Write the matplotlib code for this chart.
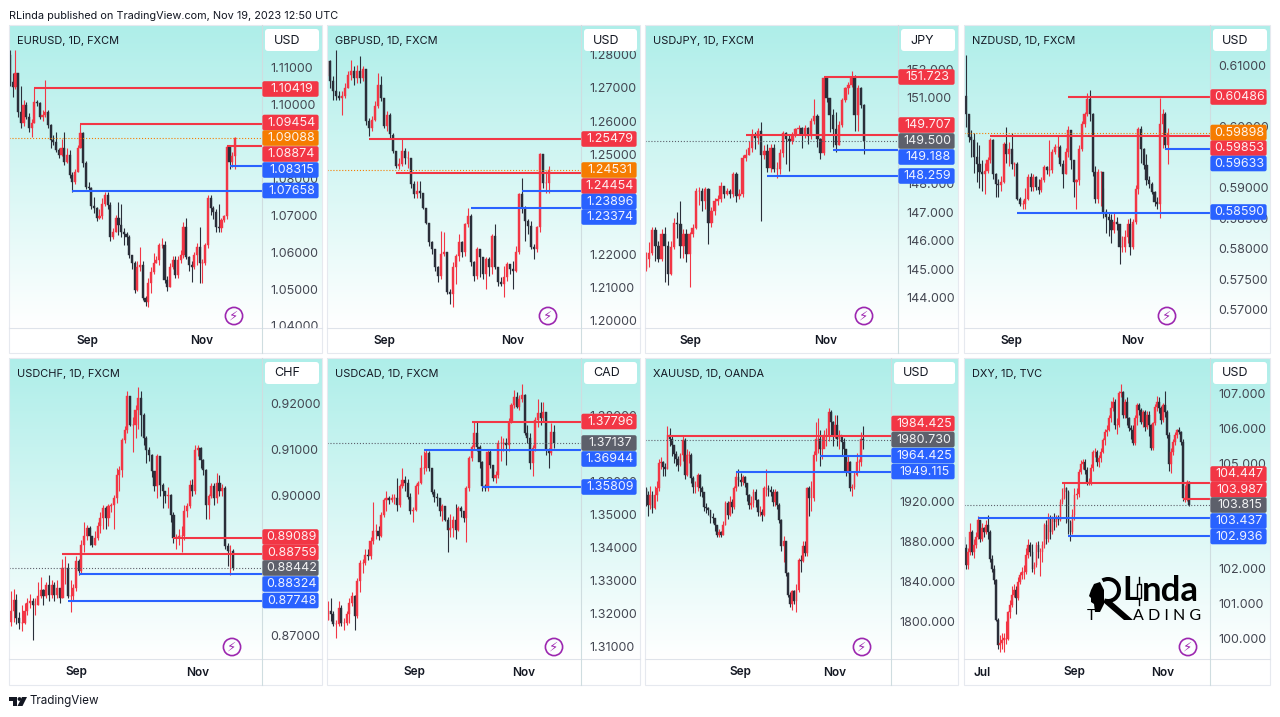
import numpy as np
import matplotlib
matplotlib.use('Agg')
import matplotlib.pyplot as plt
from matplotlib.colors import LinearSegmentedColormap
from matplotlib.patches import FancyBboxPatch, Rectangle, Circle, Polygon, Wedge

plt.rcParams['font.family'] = ['Inter', 'DejaVu Sans']

#--------------------------------------------------- daily candles, open is the previous close
eurusd_close = [1.1060,1.1047,1.1083,1.0979,1.0948,1.0997,1.0966,1.0934,1.0948,1.1006,
  1.1002,1.0966,1.0970,1.0979,1.0943,1.0903,1.0898,1.0876,1.0862,1.0880,
  1.0844,1.0862,1.0808,1.0790,1.0817,1.0880,1.0921,1.0840,1.0776,1.0772,
  1.0723,1.0718,1.0691,1.0696,1.0731,1.0754,1.0727,1.0641,1.0655,1.0691,
  1.0673,1.0655,1.0650,1.0641,1.0592,1.0569,1.0497,1.0560,1.0565,1.0475,
  1.0466,1.0515,1.0547,1.0569,1.0578,1.0619,1.0619,1.0524,1.0506,1.0560,
  1.0578,1.0538,1.0578,1.0592,1.0668,1.0587,1.0565,1.0560,1.0592,1.0614,
  1.0569,1.0569,1.0619,1.0745,1.0718,1.0709,1.0668,1.0664,1.0686,1.0696,
  1.0885,1.0844,1.0860,1.09088]
eurusd_high = [1.1146,1.1085,1.1146,1.1083,1.1050,1.1011,1.1005,1.0975,1.0960,1.1042,
  1.1012,1.1005,1.0985,1.1065,1.0985,1.0945,1.0915,1.0925,1.0880,1.0905,
  1.0925,1.0880,1.0875,1.0815,1.0825,1.0890,1.0945,1.0925,1.0845,1.0790,
  1.0776,1.0750,1.0722,1.0715,1.0745,1.0763,1.0763,1.0735,1.0665,1.0700,
  1.0735,1.0730,1.0665,1.0655,1.0645,1.0592,1.0575,1.0575,1.0614,1.0575,
  1.0480,1.0530,1.0560,1.0596,1.0590,1.0625,1.0637,1.0630,1.0535,1.0570,
  1.0590,1.0590,1.0590,1.0605,1.0680,1.0691,1.0590,1.0575,1.0600,1.0625,
  1.0668,1.0580,1.0625,1.0754,1.0754,1.0725,1.0715,1.0731,1.0692,1.0700,
  1.0890,1.0890,1.0870,1.0912]
eurusd_low = [1.1050,1.1020,1.1040,1.0965,1.0935,1.0940,1.0960,1.0925,1.0912,1.0948,
  1.0995,1.0960,1.0955,1.0965,1.0935,1.0880,1.0890,1.0870,1.0853,1.0860,
  1.0835,1.0840,1.0800,1.0763,1.0785,1.0815,1.0880,1.0830,1.0770,1.0765,
  1.0715,1.0705,1.0685,1.0688,1.0690,1.0725,1.0715,1.0630,1.0635,1.0655,
  1.0645,1.0640,1.0620,1.0620,1.0585,1.0555,1.0490,1.0495,1.0550,1.0470,
  1.0455,1.0452,1.0490,1.0540,1.0570,1.0565,1.0610,1.0515,1.0495,1.0505,
  1.0555,1.0530,1.0530,1.0570,1.0585,1.0580,1.0550,1.0520,1.0555,1.0565,
  1.0515,1.0515,1.0565,1.0610,1.0700,1.0690,1.0655,1.0655,1.0655,1.0680,
  1.0690,1.0825,1.0830,1.0825]

gbpusd_close = [1.2780,1.2720,1.2690,1.2675,1.2670,1.2675,1.2700,1.2740,1.2750,1.2730,
  1.2750,1.2730,1.2757,1.2600,1.2580,1.2605,1.2647,1.2710,1.2670,1.2585,
  1.2620,1.2560,1.2510,1.2465,1.2470,1.2510,1.2490,1.2490,1.2410,1.2380,
  1.2390,1.2385,1.2340,1.2295,1.2235,1.2215,1.2160,1.2135,1.2200,1.2205,
  1.2085,1.2080,1.2160,1.2195,1.2235,1.2205,1.2290,1.2315,1.2175,1.2135,
  1.2215,1.2190,1.2140,1.2185,1.2160,1.2255,1.2160,1.2115,1.2110,1.2130,
  1.2170,1.2155,1.2150,1.2205,1.2380,1.2340,1.2300,1.2285,1.2220,1.2215,
  1.2280,1.2500,1.2415,1.2415,1.24531]
gbpusd_high = [1.2785,1.2785,1.2735,1.2815,1.2690,1.2690,1.2715,1.2750,1.2785,1.2765,
  1.2770,1.2795,1.2765,1.2757,1.2610,1.2615,1.2660,1.2745,1.2735,1.2670,
  1.2630,1.2625,1.2565,1.2510,1.2490,1.2545,1.2520,1.2510,1.2490,1.2420,
  1.2420,1.2420,1.2385,1.2340,1.2295,1.2240,1.2215,1.2165,1.2270,1.2265,
  1.2205,1.2095,1.2175,1.2200,1.2260,1.2240,1.2295,1.2340,1.2320,1.2180,
  1.2220,1.2215,1.2190,1.2190,1.2190,1.2260,1.2290,1.2160,1.2130,1.2165,
  1.2175,1.2170,1.2180,1.2225,1.2385,1.2430,1.2345,1.2305,1.2300,1.2230,
  1.2285,1.2505,1.2500,1.2450,1.2465]
gbpusd_low = [1.2735,1.2700,1.2665,1.2665,1.2665,1.2620,1.2670,1.2700,1.2725,1.2710,
  1.2715,1.2715,1.2720,1.2590,1.2555,1.2570,1.2600,1.2640,1.2660,1.2580,
  1.2570,1.2550,1.2505,1.2460,1.2455,1.2465,1.2470,1.2460,1.2400,1.2370,
  1.2370,1.2370,1.2335,1.2290,1.2225,1.2200,1.2150,1.2115,1.2125,1.2195,
  1.2080,1.2050,1.2040,1.2110,1.2180,1.2190,1.2195,1.2280,1.2165,1.2120,
  1.2125,1.2130,1.2125,1.2095,1.2135,1.2140,1.2155,1.2105,1.2105,1.2070,
  1.2120,1.2140,1.2095,1.2145,1.2200,1.2325,1.2240,1.2260,1.2215,1.2185,
  1.2205,1.2265,1.2400,1.2385,1.2385]

usdjpy_close = [145.36,145.59,146.38,145.83,145.36,146.23,145.83,144.84,145.77,146.62,
  146.58,145.83,146.23,145.53,146.23,146.46,147.74,147.74,147.39,147.80,
  146.62,147.05,147.39,147.45,147.92,147.63,147.74,147.63,148.33,147.57,
  147.63,148.91,149.02,149.26,149.66,149.60,149.84,149.02,149.14,148.56,
  149.26,148.50,148.50,149.08,149.78,149.55,149.49,149.72,149.90,149.95,
  149.72,149.95,149.66,150.19,150.36,149.55,149.08,151.70,151.00,150.42,
  149.90,149.37,150.07,150.94,151.35,151.47,151.70,150.42,151.35,150.77,
  149.50]
usdjpy_high = [145.60,145.95,146.50,146.50,146.00,146.40,146.50,146.00,146.00,146.80,
  147.00,147.40,146.40,146.40,146.30,146.60,147.85,147.90,147.85,147.90,
  147.85,147.20,147.50,147.60,148.05,147.80,147.85,147.80,148.40,148.40,
  147.80,149.00,149.20,149.50,149.90,149.80,149.95,150.15,149.35,149.40,
  149.40,149.40,148.75,149.20,149.85,149.80,149.75,149.80,149.95,150.05,
  150.00,150.05,150.00,150.30,150.95,150.45,149.60,151.75,151.75,151.00,
  150.60,150.50,150.20,151.00,151.40,151.55,151.95,151.80,151.45,151.40,
  150.80]
usdjpy_low = [144.95,145.10,145.50,145.30,145.25,145.30,144.55,144.45,144.80,145.70,
  146.10,145.40,145.40,145.25,144.40,146.15,146.40,147.25,147.05,147.10,
  145.90,146.50,146.90,147.25,147.35,147.50,147.60,147.50,147.55,147.35,
  147.45,147.55,148.80,149.00,149.10,149.20,149.40,146.70,148.85,148.40,
  148.40,148.40,148.20,148.35,148.95,148.70,148.45,149.40,149.65,149.70,
  149.25,149.60,149.40,149.55,150.10,149.30,148.85,149.00,150.85,149.80,
  149.30,149.10,149.35,150.00,150.85,151.15,151.40,149.85,149.85,150.65,
  149.05]

nzdusd_close = [.60217,.59834,.59780,.59506,.59396,.59260,.59232,.59276,.59451,.59780,
  .59232,.59068,.59041,.59095,.59714,.59561,.59643,.59385,.59396,.58822,
  .58740,.58740,.58822,.59178,.59013,.59178,.59013,.58959,.59123,.59342,
  .59287,.59287,.59588,.59670,.59670,.59396,.59232,.59588,.59944,.59451,
  .59095,.59123,.59643,.60053,.60217,.60464,.60217,.59260,.58822,.59260,
  .59260,.58603,.58521,.58466,.58302,.58439,.58411,.58028,.58028,.58192,
  .58411,.58028,.58439,.58986,.59971,.59643,.59369,.59123,.59068,.58931,
  .58767,.58740,.60053,.60217,.59697,.59898]
nzdusd_high = [.61180,.60200,.59950,.59900,.59750,.59700,.59450,.59400,.59500,.59820,
  .59800,.59250,.59150,.59200,.59750,.60000,.59750,.59900,.59420,.59420,
  .58850,.58800,.59000,.59230,.59250,.59230,.59200,.59150,.59180,.59380,
  .59350,.59790,.59640,.59720,.59850,.59700,.59450,.59650,.60020,.59950,
  .59450,.59150,.59700,.60100,.60240,.60550,.60600,.60220,.59350,.59300,
  .59280,.59000,.58650,.58600,.58570,.58580,.58520,.58200,.58200,.58300,
  .58490,.58500,.58480,.59050,.60000,.60020,.59650,.59550,.59200,.59100,
  .58950,.58850,.60480,.60300,.60250,.59980]
nzdusd_low = [.60000,.59750,.59500,.59250,.59100,.59000,.58950,.58900,.59250,.59400,
  .59150,.58850,.58850,.58950,.59080,.59400,.59350,.59300,.59200,.58800,
  .58700,.58650,.58650,.58800,.58950,.58950,.58970,.58900,.58930,.59100,
  .59230,.59200,.59250,.59550,.59500,.59350,.59000,.59220,.59500,.59300,
  .58850,.58650,.59050,.59600,.60000,.60180,.60100,.59200,.58750,.58750,
  .58700,.58500,.58250,.58200,.58100,.58250,.58300,.57750,.57950,.57950,
  .58100,.57900,.58000,.58400,.58900,.59400,.59300,.59050,.59000,.58900,
  .58700,.58650,.58500,.59650,.59630,.59390]

usdchf_close = [.87519,.87770,.87375,.87268,.87268,.87519,.87698,.87734,.87662,.87662,
  .87841,.87985,.87841,.88092,.87877,.88092,.87877,.88021,.87806,.88451,
  .88451,.87841,.87841,.88021,.88594,.88379,.88953,.89132,.89311,.89132,
  .88953,.89096,.89347,.89526,.89741,.89526,.89777,.89813,.89957,.90458,
  .90566,.91211,.91426,.92143,.91534,.91534,.91857,.92108,.91749,.91247,
  .90996,.90889,.90530,.90207,.90853,.90243,.90100,.89992,.90028,.89598,
  .89096,.89096,.89132,.89132,.89670,.89777,.90243,.90100,.90996,.91032,
  .90781,.90566,.89813,.89992,.90207,.89957,.90279,.90100,.90172,.88917,
  .88809,.88809,.88442]
usdchf_high = [.87950,.88000,.87900,.87500,.87650,.87700,.87800,.87900,.87800,.87800,
  .88150,.88250,.88000,.88150,.88300,.88200,.88150,.88200,.88000,.88650,
  .88700,.88550,.88200,.88100,.88700,.88650,.89050,.89450,.89380,.89350,
  .89150,.89250,.89450,.89650,.89800,.89780,.89830,.89850,.90020,.90600,
  .90650,.91250,.91500,.92250,.92150,.91700,.91950,.92350,.92250,.91780,
  .91300,.91050,.90900,.90400,.90900,.90870,.90280,.90050,.90200,.90050,
  .89650,.89180,.89300,.89350,.89800,.89850,.90350,.90370,.91100,.91100,
  .91050,.90800,.90570,.90050,.90270,.90290,.90500,.90450,.90250,.90220,
  .89000,.88950,.88850]
usdchf_low = [.87200,.87300,.87250,.87150,.87100,.87250,.87450,.87600,.86900,.87450,
  .87650,.87800,.87650,.87800,.87750,.87800,.87750,.87800,.87700,.87800,
  .88100,.87800,.87500,.87750,.87950,.88300,.88350,.88800,.89050,.88950,
  .88900,.88950,.89050,.89200,.89300,.89300,.89350,.89650,.89300,.89850,
  .90100,.90400,.91150,.91350,.91500,.90950,.91250,.91450,.91300,.91100,
  .90700,.90750,.90400,.90100,.89950,.90000,.89750,.89850,.89750,.89450,
  .89000,.88850,.88950,.88800,.89050,.89550,.89750,.90000,.90050,.90850,
  .90600,.90450,.89500,.89500,.89950,.89800,.89850,.90000,.90000,.88850,
  .88500,.88300,.88400]

usdcad_close = [1.3206,1.3196,1.3166,1.3166,1.3216,1.3171,1.3171,1.3196,1.3231,1.3251,
  1.3191,1.3297,1.3352,1.3352,1.3377,1.3372,1.3417,1.3448,1.3448,1.3433,
  1.3498,1.3543,1.3548,1.3543,1.3548,1.3548,1.3528,1.3584,1.3604,1.3594,
  1.3553,1.3508,1.3513,1.3584,1.3594,1.3639,1.3639,1.3684,1.3639,1.3568,
  1.3553,1.3548,1.3508,1.3523,1.3483,1.3453,1.3458,1.3483,1.3453,1.3518,
  1.3508,1.3488,1.3579,1.3669,1.3704,1.3745,1.3704,1.3659,1.3584,1.3579,
  1.3689,1.3649,1.3609,1.3619,1.3714,1.3714,1.3714,1.3709,1.3780,1.3830,
  1.3855,1.3825,1.3850,1.3860,1.3745,1.3730,1.3654,1.3699,1.3785,1.3805,
  1.3790,1.3810,1.3694,1.3684,1.3750,1.37137]
usdcad_high = [1.3235,1.3245,1.3205,1.3180,1.3235,1.3225,1.3185,1.3205,1.3245,1.3265,
  1.3255,1.3305,1.3360,1.3365,1.3395,1.3395,1.3430,1.3535,1.3470,1.3465,
  1.3505,1.3550,1.3570,1.3555,1.3560,1.3560,1.3610,1.3590,1.3640,1.3615,
  1.3605,1.3565,1.3520,1.3590,1.3600,1.3680,1.3690,1.3695,1.3690,1.3640,
  1.3575,1.3565,1.3550,1.3530,1.3525,1.3490,1.3500,1.3495,1.3530,1.3525,
  1.3525,1.3510,1.3585,1.3675,1.3710,1.3780,1.3780,1.3710,1.3660,1.3590,
  1.3695,1.3695,1.3650,1.3630,1.3725,1.3735,1.3730,1.3730,1.3790,1.3835,
  1.3875,1.3870,1.3860,1.3893,1.3865,1.3770,1.3745,1.3710,1.3795,1.3850,
  1.3840,1.3840,1.3810,1.3700,1.3775,1.3770]
usdcad_low = [1.3180,1.3175,1.3160,1.3125,1.3160,1.3160,1.3150,1.3165,1.3170,1.3220,
  1.3150,1.3185,1.3265,1.3320,1.3345,1.3360,1.3365,1.3410,1.3425,1.3420,
  1.3430,1.3490,1.3510,1.3530,1.3535,1.3530,1.3510,1.3520,1.3580,1.3570,
  1.3545,1.3500,1.3475,1.3510,1.3560,1.3590,1.3620,1.3630,1.3630,1.3560,
  1.3535,1.3525,1.3495,1.3480,1.3480,1.3385,1.3430,1.3430,1.3425,1.3450,
  1.3490,1.3475,1.3415,1.3570,1.3660,1.3695,1.3690,1.3640,1.3570,1.3570,
  1.3570,1.3640,1.3600,1.3595,1.3610,1.3660,1.3690,1.3650,1.3690,1.3775,
  1.3820,1.3820,1.3815,1.3840,1.3740,1.3715,1.3635,1.3615,1.3690,1.3765,
  1.3770,1.3780,1.3680,1.3640,1.3680,1.3700]

xauusd_close = [1925.9,1916.1,1925.9,1912.8,1925.9,1932.5,1957.2,1958.8,1953.9,1952.2,
  1985.1,1981.9,1975.3,1967.0,1962.1,1955.5,1965.4,1980.2,1945.7,1965.4,
  1965.4,1942.4,1934.1,1934.1,1945.7,1932.5,1929.2,1914.4,1912.8,1911.1,
  1904.5,1902.9,1896.3,1886.4,1889.7,1886.4,1896.3,1917.7,1906.2,1919.3,
  1914.4,1932.5,1944.0,1940.7,1939.1,1944.0,1937.4,1925.9,1916.1,1917.7,
  1929.2,1921.0,1909.5,1909.5,1906.2,1932.5,1932.5,1930.9,1929.2,1919.3,
  1929.2,1916.1,1901.2,1874.9,1879.9,1848.6,1827.2,1817.4,1830.5,1820.6,
  1832.2,1861.8,1860.1,1874.9,1868.3,1932.5,1922.6,1922.6,1965.4,1981.9,
  1981.9,1972.0,1972.0,1985.1,1985.1,2008.2,1998.3,1985.1,1995.0,1981.9,
  1985.1,1978.6,1972.0,1949.0,1958.8,1932.5,1934.1,1945.7,1958.8,1958.8,
  1981.9,1980.73]
xauusd_high = [1934,1930,1935,1930,1935,1940,1962,1964,1960,1958,
  1994,1992,1985,1975,1970,1965,1968,1985,1982,1972,
  1970,1968,1945,1940,1948,1947,1935,1925,1918,1914,
  1910,1908,1902,1895,1892,1890,1900,1920,1920,1925,
  1922,1935,1950,1952,1948,1946,1945,1938,1927,1925,
  1932,1932,1922,1915,1912,1935,1952,1936,1935,1932,
  1932,1930,1918,1902,1885,1880,1850,1830,1832,1832,
  1838,1863,1866,1880,1880,1934,1935,1940,1970,1998,
  2002,1990,1985,1990,1992,2012,2010,1999,2005,2005,
  1990,1985,1982,1965,1965,1960,1937,1950,1968,1962,
  1988,1994]
xauusd_low = [1915,1905,1912,1908,1912,1920,1930,1952,1945,1945,
  1952,1975,1965,1958,1955,1950,1955,1960,1942,1945,
  1958,1938,1928,1928,1930,1925,1924,1910,1908,1906,
  1898,1898,1890,1884,1884,1884,1886,1896,1902,1905,
  1908,1912,1930,1935,1935,1936,1934,1920,1912,1912,
  1914,1914,1905,1905,1900,1905,1925,1925,1925,1915,
  1915,1912,1898,1870,1860,1846,1825,1815,1812,1818,
  1810,1830,1850,1860,1865,1865,1905,1910,1920,1960,
  1968,1955,1962,1975,1975,1980,1985,1975,1982,1975,
  1972,1965,1950,1945,1948,1930,1925,1932,1945,1950,
  1955,1972]

dxy_close = [102.58,102.10,102.48,103.06,102.48,102.67,102.91,103.39,102.86,103.15,
  103.06,103.25,103.06,102.29,102.00,101.67,100.52,99.81,99.86,99.95,
  100.00,100.00,100.76,100.95,101.24,101.38,101.15,101.62,101.81,101.91,
  101.91,102.39,102.67,102.48,102.00,102.10,102.67,102.48,102.48,102.67,
  103.25,102.86,103.44,103.06,103.44,103.34,103.44,103.39,103.92,104.01,
  104.30,104.20,103.34,103.06,103.53,104.11,104.15,104.77,105.01,105.06,
  104.82,104.49,104.49,104.87,105.35,105.35,105.06,105.16,105.35,105.68,
  105.92,105.97,106.30,106.59,106.78,106.11,106.11,107.02,107.07,106.40,
  106.78,106.30,106.02,105.97,105.59,106.30,106.68,106.54,106.21,106.49,
  106.06,106.40,106.11,105.44,106.16,106.64,106.78,106.59,106.26,106.68,
  106.49,105.83,105.01,105.35,105.63,105.83,105.97,105.92,105.63,104.01,
  104.01,104.49,103.815]
dxy_high = [102.90,102.70,102.60,103.30,103.10,102.85,103.05,103.50,103.40,103.30,
  103.20,103.40,103.55,103.10,102.40,102.10,101.70,100.60,100.10,100.15,
  100.15,100.50,100.80,101.10,101.50,101.55,101.50,101.75,101.90,102.05,
  102.10,102.60,102.85,102.75,102.70,102.20,102.75,102.80,102.60,102.80,
  103.30,103.40,103.60,103.55,103.50,103.60,103.55,103.55,104.00,104.30,
  104.45,104.35,104.25,103.40,103.70,104.30,104.30,104.85,105.10,105.15,
  105.15,104.90,104.60,105.00,105.40,105.45,105.40,105.25,105.45,105.75,
  106.00,106.10,106.40,106.80,106.90,106.85,106.30,107.10,107.30,107.10,
  106.85,106.90,106.35,106.10,106.10,106.40,106.75,106.75,106.60,106.55,
  106.55,106.50,106.50,106.15,106.20,106.70,106.95,106.90,106.65,106.75,
  107.10,106.55,105.90,105.45,105.70,105.90,106.00,106.05,105.95,105.70,
  104.40,104.55,104.50]
dxy_low = [102.30,102.00,102.00,102.40,102.40,102.30,102.60,102.85,102.75,102.80,
  102.90,103.00,102.85,102.20,101.90,101.55,100.50,99.70,99.60,99.70,
  99.60,99.85,99.95,100.60,100.90,101.20,100.70,101.10,101.55,101.70,
  101.70,101.85,102.30,102.35,101.90,101.85,102.05,102.30,101.80,102.20,
  102.60,102.70,102.75,102.85,103.00,103.10,103.20,103.25,103.35,103.85,
  104.00,103.30,103.00,102.80,103.00,103.40,104.00,104.05,104.70,104.85,
  104.70,104.40,104.40,104.40,104.80,105.20,104.95,104.90,105.05,105.30,
  105.55,105.80,105.95,106.20,106.50,106.00,105.85,106.05,106.90,106.30,
  106.30,106.10,105.95,105.70,105.55,105.55,106.10,106.40,106.15,106.05,
  105.95,106.00,105.80,105.40,105.40,106.10,106.50,106.45,106.15,106.20,
  106.35,105.75,104.80,104.75,105.25,105.55,105.75,105.85,105.55,103.95,
  103.90,103.95,103.80]

first_open = [1.1132, 1.2735, 145.00, .60500, .87300, 1.3180, 1932.0, 102.90]
titles = ['EURUSD, 1D, FXCM','GBPUSD, 1D, FXCM','USDJPY, 1D, FXCM','NZDUSD, 1D, FXCM',
          'USDCHF, 1D, FXCM','USDCAD, 1D, FXCM','XAUUSD, 1D, OANDA','DXY, 1D, TVC']
currency = ['USD','USD','JPY','USD','CHF','CAD','USD','USD']
closes = [eurusd_close,gbpusd_close,usdjpy_close,nzdusd_close,usdchf_close,usdcad_close,xauusd_close,dxy_close]
highs = [eurusd_high,gbpusd_high,usdjpy_high,nzdusd_high,usdchf_high,usdcad_high,xauusd_high,dxy_high]
lows = [eurusd_low,gbpusd_low,usdjpy_low,nzdusd_low,usdchf_low,usdcad_low,xauusd_low,dxy_low]

y_ticks = [[1.11,1.10,1.08,1.07,1.06,1.05,1.04],
           [1.28,1.27,1.26,1.25,1.22,1.21,1.20],
           [152,151,148,147,146,145,144],
           [.61,.60,.59,.585,.58,.575,.57],
           [.92,.91,.90,.87],
           [1.38,1.36,1.35,1.34,1.33,1.32,1.31],
           [1920,1880,1840,1800],
           [107,106,105,102,101,100]]
y_fmt = ['%.5f','%.5f','%.3f','%.5f','%.5f','%.5f','%.3f','%.3f']
month_labels = [['Sep','Nov'],['Sep','Nov'],['Sep','Nov'],['Sep','Nov'],
                ['Sep','Nov'],['Sep','Nov'],['Sep','Nov'],['Jul','Sep','Nov']]

# levels per panel: price, kind (r/b), first bar of the line
level_price = [[1.10419,1.09454,1.08874,1.08315,1.07658],
               [1.25479,1.24454,1.23896,1.23374],
               [151.723,149.707,149.188,148.259],
               [.60486,.59853,.59633,.58590],
               [.89089,.88759,.88324,.87748],
               [1.37796,1.36944,1.35809],
               [1984.425,1964.425,1949.115],
               [104.447,103.987,103.437,102.936]]
level_kind = [['r','r','r','b','b'],['r','r','b','b'],['r','r','b','b'],['r','r','b','b'],
              ['r','r','b','b'],['r','b','b'],['r','b','b'],['r','r','b','b']]
level_start = [[9,26,80,81,23],[14,23,65,48],[57,32,60,39],[38,9,74,19],
               [60,19,25,21],[54,36,58],[10,81,42],[49,109,7,52]]
last_color = ['#f57c00','#f57c00','#5d606b','#f57c00','#5d606b','#5d606b','#5d606b','#5d606b']

#--------------------------------------------------- panel layout in pixels
W, H = 1280, 717
panel_x = [(9,322,262),(327,640,581),(645,958,898),(964,1270,1210),
           (9,322,262),(327,640,581),(645,958,891),(964,1270,1210)]
panel_y = [(25,328,353)]*4 + [(358,659,685)]*4
bar_span = [(10,235),(327,549),(646,864),(966,1168),(11,233),(328,554),(646,863),(964,1189)]
# two reference prices and their pixel rows set the vertical scale
y_scale = [(1.11,67,1.05,289),(1.27,88,1.20,320.5),(151,98,144,298),(.61,66,.57,309.5),
           (.92,403,.87,635.5),(1.35,514,1.31,646),(1920,501,1800,622),(107,394,100,638.5)]
month_x = [(87,202),(384,513),(690,826),(1011,1133),(76,198),(414,524),(740,835),(982,1074,1163)]
tag_y = [[89,122.5,154,170,190.5],[139,186,201.5,217],[77,125,157,176],[97,148,163.5,212],
         [537,552.5,584,600.5],[421.5,459,487],[423.5,455.5,471.5],[474,489.5,521,536.5]]
last_tag_y = [138,170,141,132.5,568,443,439.5,505]
icon_xy = [(234,316),(548,316),(864,316),(1167,316),(232,647),(554,647),(862,647),(1188,647)]

RED, BLUE = '#f23645', '#2962ff'
UP, DOWN = '#f23645', '#2a2e39'
GRAD = LinearSegmentedColormap.from_list('panelbg', ['#aeeee9', '#ffffff'])

fig = plt.figure(figsize=(W/100, H/100), dpi=100, facecolor='white')

def pixel_axes(z):
  ax = fig.add_axes([0, 0, 1, 1], zorder=z)
  ax.set_xlim(0, W); ax.set_ylim(H, 0)
  ax.axis('off'); ax.patch.set_alpha(0)
  return ax

back = pixel_axes(0)
front = pixel_axes(5)

def price_tag(left, right, cy, label, color):
  front.add_patch(FancyBboxPatch((left+1, cy-7.2), right-left-2, 14.4, boxstyle='round,pad=0.6,rounding_size=2',
                                 fc=color, ec='none', zorder=4))
  front.text((left+right)/2+1, cy+0.3, label, ha='center', va='center', fontsize=9, color='white', alpha=0.92, zorder=5)

#--------------------------------------------------- draw one candle panel
def draw_panel(i):
  x0, x1, xp = panel_x[i]
  y0, yp, y1 = panel_y[i]

  grad = np.linspace(0, 1, 256).reshape(-1, 1)
  back.imshow(grad, cmap=GRAD, extent=[x0, x1, yp, y0], aspect='auto', zorder=1)
  back.set_xlim(0, W); back.set_ylim(H, 0)

  ax = fig.add_axes([x0/W, 1-yp/H, (xp-x0)/W, (yp-y0)/H], zorder=2)
  ax.patch.set_alpha(0)

  close = np.array(closes[i], dtype=float)
  high = np.array(highs[i], dtype=float)
  low = np.array(lows[i], dtype=float)
  opn = np.r_[first_open[i], close[:-1]]
  n = len(close)
  idx = np.arange(n)

  first, last = bar_span[i]
  dx = (last-first)/(n-1)
  ax.set_xlim(-(first-x0)/dx, (xp-first)/dx)
  pa, ya, pb, yb = y_scale[i]
  per_px = (pa-pb)/(yb-ya)
  ax.set_ylim(pa-(yp-ya)*per_px, pa+(ya-y0)*per_px)

  colors = np.where(close >= opn, UP, DOWN)
  ax.vlines(idx, low, high, colors=colors, lw=0.8, zorder=2)
  ax.bar(idx, close-opn, bottom=opn, width=0.8, color=colors, edgecolor=colors, lw=0.3, zorder=3)

  for price, kind, start in zip(level_price[i], level_kind[i], level_start[i]):
    ax.hlines(price, start, ax.get_xlim()[1], colors=RED if kind == 'r' else BLUE, lw=1.5, zorder=5)
  ax.axhline(close[-1], color=last_color[i], ls=':', lw=0.8, zorder=4)

  ax.set_xticks([])
  ax.yaxis.tick_right()
  ax.set_yticks(y_ticks[i])
  ax.set_yticklabels([y_fmt[i] % v for v in y_ticks[i]], fontsize=9, color='#434651')
  ax.tick_params(axis='y', length=0, pad=6)
  for sp in ax.spines.values():
    sp.set_visible(False)

  # time strip, separators and frame
  front.add_patch(Rectangle((x0, yp), x1-x0, y1-yp, fc='white', ec='none', zorder=1))
  front.add_patch(Rectangle((x0, y0), x1-x0, y1-y0, fc='none', ec='#e6e9ef', lw=0.8, zorder=2))
  front.plot([x0, x1], [yp, yp], color='#dfe3ea', lw=0.8, zorder=2)
  front.plot([xp, xp], [y0, y1], color='#cfdde0', lw=0.8, zorder=2)
  for lab, mx in zip(month_labels[i], month_x[i]):
    front.text(mx, (yp+y1)/2+0.5, lab, ha='center', va='center', fontsize=8.5, fontweight='semibold', color='#131722', zorder=3)

  front.text(x0+8, y0+16, titles[i], ha='left', va='center', fontsize=7.9, color='#131722', zorder=6)

  # currency box
  bx = xp+3
  front.add_patch(FancyBboxPatch((bx, y0+4), x1-3-bx, 22, boxstyle='round,pad=0,rounding_size=3',
                                 fc='white', ec='none', zorder=3))
  front.text(bx+9, y0+15.5, currency[i], ha='left', va='center', fontsize=9, color='#131722', zorder=4)

  # price tags
  right = x1-3
  for price, kind, ty in zip(level_price[i], level_kind[i], tag_y[i]):
    price_tag(xp, right, ty, y_fmt[i] % price, RED if kind == 'r' else BLUE)
  price_tag(xp, right, last_tag_y[i], y_fmt[i] % close[-1], last_color[i])

  # publish marker
  cx, cy = icon_xy[i]
  front.add_patch(Circle((cx, cy), 8.6, fc='none', ec='#9c27b0', lw=1.2, zorder=6))
  front.text(cx, cy, '\u26a1', ha='center', va='center', fontsize=9.5, color='#9c27b0',
             family='DejaVu Sans', zorder=6)

for p in range(8):
  draw_panel(p)

#--------------------------------------------------- header, footer and logo
front.text(9, 16, 'RLinda published on TradingView.com, Nov 19, 2023 12:50 UTC', ha='left', va='center',
           fontsize=7.85, color='#131722')

front.add_patch(Polygon([(9,697),(17,697),(17,706),(13,706),(13,701),(9,701)], fc='#131722', ec='none'))
front.add_patch(Circle((19.5, 699), 1.9, fc='#131722', ec='none'))
front.add_patch(Polygon([(22,697),(27,697),(22.5,706),(17.5,706)], fc='#131722', ec='none'))
front.text(30, 701, 'TradingView', ha='left', va='center', fontsize=8.4, color='#131722')

# head and R of the wordmark
front.add_patch(Polygon([(1100,582),(1094,584),(1091,590),(1089,596),(1091,598),(1091,602),(1094,604),(1095,612),
                        (1100,612),(1104,604),(1104,590)], fc='black', ec='none', zorder=6))
front.add_patch(Wedge((1108, 590), 13, -120, 110, width=4, fc='black', ec='none', zorder=6))
front.add_patch(Polygon([(1103,602),(1110,600),(1133,620),(1124,620)], fc='black', ec='none', zorder=6))
front.text(1122, 591, 'L', ha='left', va='center', fontsize=24, fontweight='bold', family='Lato', color='black', zorder=6)
front.plot([1138.5, 1138.5], [577, 605], color='black', lw=1, zorder=6)
front.add_patch(Rectangle((1136.5, 584), 4, 14, fc='white', ec='black', lw=1, zorder=7))
front.text(1142, 591, 'nda', ha='left', va='center', fontsize=25, fontweight='bold', family='Lato', color='black', zorder=6)
front.text(1087, 615.5, 'T', ha='left', va='center', fontsize=11, family='Lato', color='black', zorder=6)
front.text(1133, 616, 'A D I N G', ha='left', va='center', fontsize=11.5, family='Lato', color='black', zorder=6)

fig.savefig('out.png', dpi=100, facecolor='white')
